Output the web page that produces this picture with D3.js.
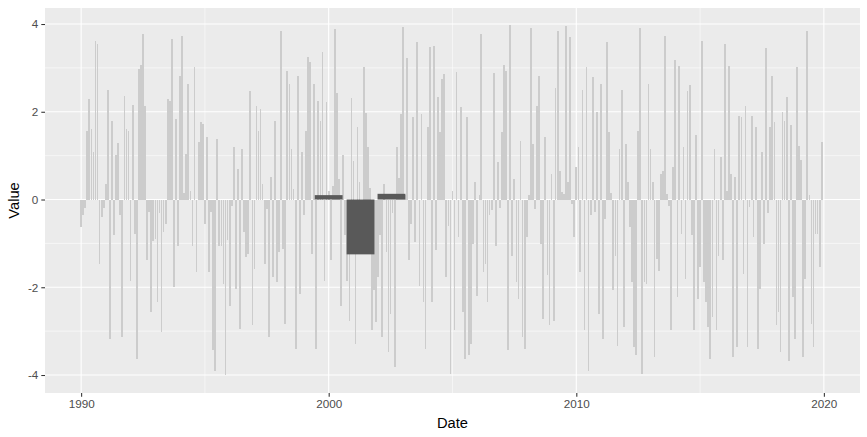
<!DOCTYPE html>
<html><head><meta charset="utf-8">
<script src="https://cdn.jsdelivr.net/npm/d3@7"></script>
<style>body{margin:0;background:#fff}svg{display:block}</style>
</head><body>
<svg id="chart" width="867" height="437"></svg>
<script>
// Monthly values, one row per year (Jan..Dec), 1990..2019
const years = d3.range(1990, 2020);
const monthlyValues = [
 [-0.63,-0.36,-0.2,1.57,2.29,1.6,1.09,3.62,3.55,-1.47,-0.4,-0.2],
 [0.36,2.5,-3.17,1.8,-0.82,1.02,1.28,-0.35,-3.14,2.37,1.61,1.57],
 [-1.85,2.16,-0.78,-3.63,2.98,3.07,3.77,2.14,-1.39,-0.29,-2.57,-0.95],
 [-0.9,-2.34,-0.3,-3.02,-0.74,-0.55,2.29,2.25,3.66,-2.0,1.84,-1.05],
 [2.82,3.73,0.15,1.04,2.63,0.2,-1.05,3.01,-1.66,1.31,1.76,1.72],
 [-0.55,1.42,-1.66,-0.29,-3.44,-3.9,1.38,-1.05,-1.05,-1.92,-4.0,-0.93],
 [-2.42,-0.15,1.19,-2.03,0.7,-2.95,1.15,-0.74,-1.3,-1.25,2.48,-2.87],
 [-1.58,2.14,1.57,2.07,0.36,-1.47,-0.21,-3.14,0.51,-1.77,1.78,-1.88],
 [-1.2,3.83,-1.12,-2.83,2.94,2.63,1.15,0.24,-3.4,2.82,-2.15,1.09],
 [-0.36,1.57,3.24,3.13,-1.24,2.63,-3.4,2.25,1.8,3.37,-1.85,2.23],
 [0.2,-1.39,0.3,3.89,2.43,0.47,-2.42,1.02,-0.82,-1.85,-2.76,2.31],
 [0.87,-3.29,1.66,0.4,-0.8,3.01,1.97,1.19,0.26,-2.98,-2.07,-2.8],
 [-1.77,-0.82,-3.14,0.36,-1.2,-3.48,-2.6,-0.3,-3.82,1.19,0.5,1.95],
 [3.93,0.1,3.22,-1.39,-0.55,1.88,-0.97,3.6,-1.96,1.95,-2.34,-3.4],
 [1.65,3.47,-2.34,3.51,-1.16,2.33,1.53,2.75,2.86,-1.77,-0.6,-3.97],
 [0.2,-2.98,2.9,-0.86,2.1,-2.57,-3.63,1.88,-3.55,-3.3,-1.01,0.39],
 [-2.19,0.1,3.77,-1.66,-1.47,-2.34,-0.36,-0.25,2.89,-1.05,0.85,-0.2],
 [1.53,3.07,2.94,-3.44,3.98,-1.28,0.47,-1.88,-2.26,1.34,-3.14,-3.4],
 [-0.86,0.1,3.9,1.27,-0.21,2.14,2.82,-1.01,-2.72,1.42,-1.73,-2.87],
 [0.58,-2.78,2.54,3.83,0.66,0.17,0.12,3.96,0.39,3.7,-0.1,-0.86],
 [0.74,1.19,-1.66,2.5,-2.98,3.01,-3.9,-0.36,2.79,-0.29,1.99,-2.6],
 [2.63,-3.17,-0.44,3.6,1.53,0.15,-2.07,-1.28,-3.33,1.15,2.5,-2.9],
 [1.27,0.39,-0.63,-1.88,-3.36,-3.55,1.57,3.9,-3.97,-1.88,-1.92,2.63],
 [1.15,0.39,-3.59,-1.35,-1.62,0.58,0.66,3.73,0.13,-0.14,-2.98,0.74],
 [3.17,-2.22,3.05,-0.78,1.19,-1.81,2.48,2.6,-0.82,-2.98,1.46,-2.26],
 [-1.54,3.62,-1.88,-2.34,-2.9,-3.63,-2.68,1.15,-2.98,-1.28,0.96,-1.39],
 [3.55,0.2,3.05,0.58,-3.59,0.51,-3.36,1.9,1.88,-1.69,2.13,-3.36],
 [-0.17,1.9,-0.86,1.65,-3.4,-2.03,1.08,-1.01,3.45,-0.3,1.65,2.82],
 [1.76,-2.87,-2.57,-3.48,1.99,1.8,2.33,-3.67,1.69,-2.22,-3.17,3.01],
 [1.23,0.89,-3.59,-1.81,3.85,0.1,-2.83,-3.36,-0.78,-0.78,-1.54,1.32]
];
// Highlighted series (dark bars)
const highlightDates = ["2000-01-01", "2001-04-15", "2002-07-15"];
const highlightValues = [0.1, -1.25, 0.13];

const xTickYears = [1990, 2000, 2010, 2020];
const xMinorYears = [1995, 2005, 2015];
const yTicks = [-4, -2, 0, 2, 4];
const yMinor = [-3, -1, 1, 3];

const greyData = [];
years.forEach((yr, r) => monthlyValues[r].forEach((v, m) => greyData.push({date: new Date(Date.UTC(yr, m, 1)), value: v})));
const darkData = highlightDates.map((d, i) => ({date: new Date(d + "T00:00:00Z"), value: highlightValues[i]}));

const DAY = 86400000;
const W = 867, H = 437;
const panel = {left: 45, right: 860, top: 8, bottom: 393};

const x = d3.scaleUtc()
  .domain([new Date(Date.UTC(1988, 6, 17)), new Date(Date.UTC(2021, 5, 17))])
  .range([panel.left, panel.right]);
const y = d3.scaleLinear().domain([-4.41, 4.365]).range([panel.bottom, panel.top]);

const svg = d3.select("#chart");
svg.append("rect").attr("width", W).attr("height", H).attr("fill", "#fff");
svg.append("rect").attr("x", panel.left).attr("y", panel.top)
  .attr("width", panel.right - panel.left).attr("height", panel.bottom - panel.top).attr("fill", "#EBEBEB");

const g = svg.append("g");
const yr = v => new Date(Date.UTC(v, 0, 1));
// minor grid
g.selectAll(".vmin").data(xMinorYears).join("line")
  .attr("x1", d => x(yr(d))).attr("x2", d => x(yr(d))).attr("y1", panel.top).attr("y2", panel.bottom)
  .attr("stroke", "#fff").attr("stroke-width", 0.55);
g.selectAll(".hmin").data(yMinor).join("line")
  .attr("y1", d => y(d)).attr("y2", d => y(d)).attr("x1", panel.left).attr("x2", panel.right)
  .attr("stroke", "#fff").attr("stroke-width", 0.55);
// major grid
g.selectAll(".vmaj").data(xTickYears).join("line")
  .attr("x1", d => x(yr(d))).attr("x2", d => x(yr(d))).attr("y1", panel.top).attr("y2", panel.bottom)
  .attr("stroke", "#fff").attr("stroke-width", 1.1);
g.selectAll(".hmaj").data(yTicks).join("line")
  .attr("y1", d => y(d)).attr("y2", d => y(d)).attr("x1", panel.left).attr("x2", panel.right)
  .attr("stroke", "#fff").attr("stroke-width", 1.1);

// grey monthly bars (width = 0.9 * 28 days)
const gw = 0.9 * 28 * DAY;
g.append("g").attr("shape-rendering", "crispEdges").selectAll("rect").data(greyData).join("rect")
  .attr("x", d => x(new Date(+d.date - gw / 2)))
  .attr("width", d => x(new Date(+d.date + gw / 2)) - x(new Date(+d.date - gw / 2)))
  .attr("y", d => y(Math.max(0, d.value)))
  .attr("height", d => Math.abs(y(d.value) - y(0)))
  .attr("fill", "#CCCCCC");

// dark highlighted bars (width = 0.9 * min spacing)
const spac = d3.min(d3.pairs(darkData), ([a, b]) => b.date - a.date);
const dw = 0.9 * spac;
g.append("g").selectAll("rect").data(darkData).join("rect")
  .attr("x", d => x(new Date(+d.date - dw / 2)))
  .attr("width", d => x(new Date(+d.date + dw / 2)) - x(new Date(+d.date - dw / 2)))
  .attr("y", d => y(Math.max(0, d.value)))
  .attr("height", d => Math.abs(y(d.value) - y(0)))
  .attr("fill", "#595959");

// axes
const xAxis = d3.axisBottom(x).tickValues(xTickYears.map(yr)).tickFormat(d3.utcFormat("%Y")).tickSizeOuter(0).tickSize(3.7).tickPadding(3);
const yAxis = d3.axisLeft(y).tickValues(yTicks).tickFormat(d => String(d).replace("\u2212", "-")).tickSizeOuter(0).tickSize(3.7).tickPadding(3);
const xa = svg.append("g").attr("transform", `translate(0,${panel.bottom})`).call(xAxis);
const ya = svg.append("g").attr("transform", `translate(${panel.left},0)`).call(yAxis);
[xa, ya].forEach(a => {
  a.select(".domain").remove();
  a.selectAll(".tick line").attr("stroke", "#333333").attr("stroke-width", 1.07);
  a.selectAll(".tick text").attr("fill", "#4D4D4D").style("font-family", "'Liberation Sans', Arial, sans-serif").style("font-size", "11.7px");
});

svg.append("text").attr("x", (panel.left + panel.right) / 2).attr("y", 428)
  .attr("text-anchor", "middle").style("font-family", "'Liberation Sans', Arial, sans-serif").style("font-size", "14.7px").attr("fill", "#000").text("Date");
svg.append("text").attr("transform", `translate(19,${(panel.top + panel.bottom) / 2}) rotate(-90)`)
  .attr("text-anchor", "middle").style("font-family", "'Liberation Sans', Arial, sans-serif").style("font-size", "14.7px").attr("fill", "#000").text("Value");
</script>
</body></html>
